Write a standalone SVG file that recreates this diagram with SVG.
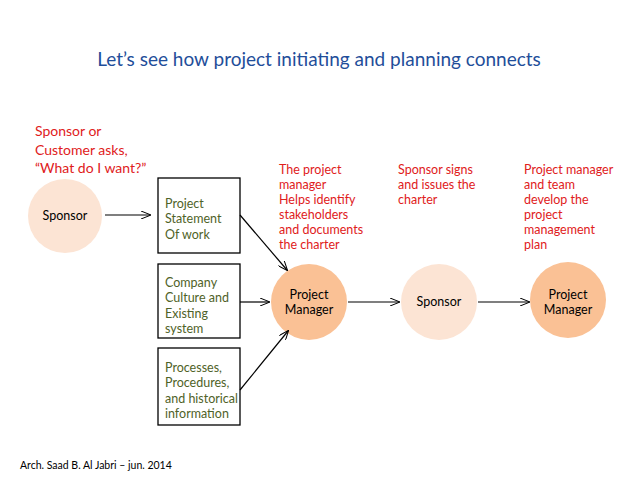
<svg xmlns="http://www.w3.org/2000/svg" width="638" height="478" viewBox="0 0 638 478">
<defs>
<marker id="ah" markerWidth="10" markerHeight="8" refX="9" refY="4" orient="auto" markerUnits="userSpaceOnUse"><path d="M0,0 L10,4 L0,8" fill="none" stroke="#000" stroke-width="1"/></marker>
</defs>
<style>
text{font-family:Lato,"Liberation Sans",sans-serif;font-size:12.5px}
.title{font-size:19px;fill:#1F4E9A}
.red{fill:#E0201B}
.grn{fill:#4F6228}
.box{fill:#fff;stroke:#000;stroke-width:1.3}
.pale{fill:#FCE4D4}
.or{fill:#FAC195}
.c{text-anchor:middle}
.cn{stroke:#000;stroke-width:1.2;fill:none;marker-end:url(#ah)}
.big{font-size:14px}
</style>
<rect width="638" height="478" fill="#fff"/>
<text class="title" x="319" y="66" text-anchor="middle">Let’s see how project initiating and planning connects</text>
<g id="ask">
<text class="red big" x="35" y="136">Sponsor or</text>
<text class="red big" x="35" y="155">Customer asks,</text>
<text class="red big" x="35" y="173">“What do I want?”</text>
</g>
<g id="sponsor1"><circle class="pale" cx="65" cy="216" r="37"/><text class="c" x="65" y="220">Sponsor</text></g>
<g id="box1"><rect class="box" x="158" y="178" width="82" height="75"/><text class="grn" x="165" y="208">Project</text><text class="grn" x="165" y="223">Statement</text><text class="grn" x="165" y="239">Of work</text></g>
<g id="box2"><rect class="box" x="158" y="264" width="82" height="74"/><text class="grn" x="165" y="287">Company</text><text class="grn" x="165" y="302">Culture and</text><text class="grn" x="165" y="318">Existing</text><text class="grn" x="165" y="333">system</text></g>
<g id="box3"><rect class="box" x="158" y="348" width="82" height="77"/><text class="grn" x="165" y="372">Processes,</text><text class="grn" x="165" y="387">Procedures,</text><text class="grn" x="165" y="403">and historical</text><text class="grn" x="165" y="418">information</text></g>
<g id="pm1"><circle class="or" cx="309" cy="302" r="38"/><text class="c" x="309" y="299">Project</text><text class="c" x="309" y="314">Manager</text></g>
<g id="sponsor2"><circle class="pale" cx="439" cy="302" r="38"/><text class="c" x="439" y="306">Sponsor</text></g>
<g id="pm2"><circle class="or" cx="568" cy="300" r="38"/><text class="c" x="568" y="299">Project</text><text class="c" x="568" y="314">Manager</text></g>
<g id="labels">
<text class="red" x="279" y="174">The  project</text><text class="red" x="279" y="189">manager</text><text class="red" x="279" y="204">Helps identify</text><text class="red" x="279" y="219">stakeholders</text><text class="red" x="279" y="234">and documents</text><text class="red" x="279" y="249">the charter</text>
<text class="red" x="398" y="174">Sponsor signs</text><text class="red" x="398" y="189">and issues the</text><text class="red" x="398" y="204">charter</text>
<text class="red" x="524" y="174">Project manager</text><text class="red" x="524" y="189">and team</text><text class="red" x="524" y="204">develop the</text><text class="red" x="524" y="219">project</text><text class="red" x="524" y="234">management</text><text class="red" x="524" y="249">plan</text>
</g>
<g id="connectors">
<line class="cn" x1="105" y1="215" x2="150" y2="215"/>
<line class="cn" x1="240" y1="215" x2="287" y2="270"/>
<line class="cn" x1="240" y1="302" x2="269" y2="302"/>
<line class="cn" x1="240" y1="390" x2="288" y2="331"/>
<line class="cn" x1="348" y1="302" x2="399" y2="302"/>
<line class="cn" x1="478" y1="302" x2="529" y2="302"/>
</g>
<text x="20" y="469" style="font-size:10.5px" fill="#000">Arch. Saad B. Al Jabri – jun. 2014</text>
</svg>
